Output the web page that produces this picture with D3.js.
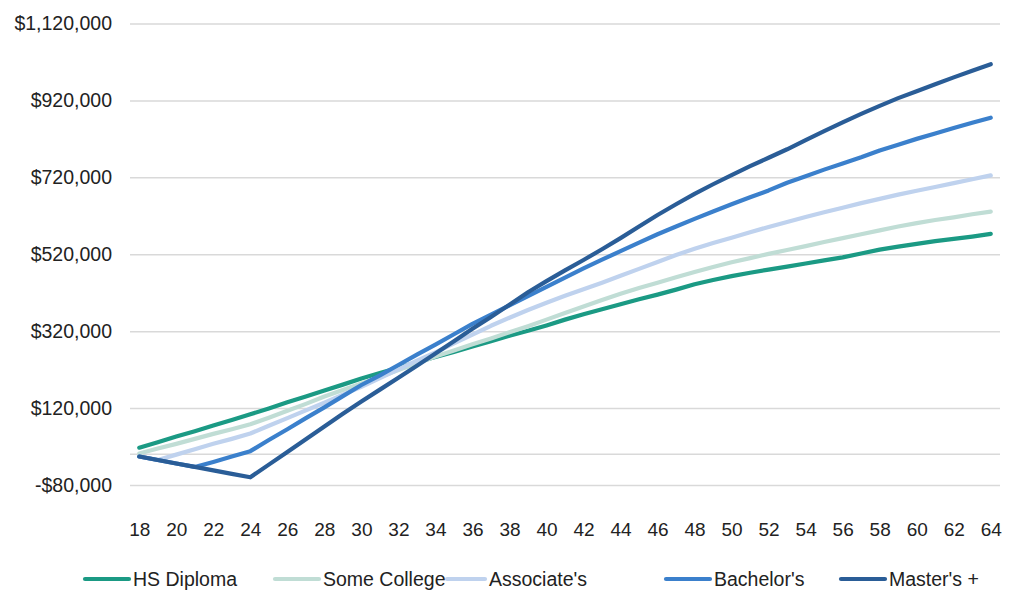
<!DOCTYPE html>
<html>
<head>
<meta charset="utf-8">
<script src="https://cdn.jsdelivr.net/npm/d3@7"></script>
<style>
  body { margin: 0; background: #fff; }
  text { font-family: "Liberation Sans", Arial, sans-serif; }
</style>
</head>
<body>
<svg id="svg"></svg>
<script>
// ages on the category axis
const ages = d3.range(18, 65);

// cumulative earnings by age, one array per education level
const hsDiploma = [17000, 31000, 46000, 60000, 75000, 89000, 104000, 119000, 135000, 150000, 166000, 181000, 197000,
    211000, 225000, 239000, 253000, 266000, 280000, 294000, 308000, 321000, 335000, 350000, 364000, 377000, 390000,
    403000, 415000, 428000, 442000, 453000, 463000, 472000, 480000, 488000, 496000, 504000, 512000, 522000, 532000,
    540000, 547000, 554000, 560000, 566000, 573000];
const someCollege = [2000, 15000, 27000, 40000, 53000, 65000, 78000, 95000, 113000, 131000, 150000, 167000, 184000,
    201000, 219000, 236000, 254000, 270000, 286000, 301000, 317000, 333000, 350000, 367000, 384000, 401000, 417000,
    432000, 446000, 460000, 474000, 487000, 499000, 510000, 521000, 531000, 541000, 552000, 562000, 572000, 582000,
    592000, 601000, 609000, 616000, 624000, 631000];
const associates = [-6000, -15000, -1000, 13000, 27000, 40000, 54000, 74000, 94000, 114000, 134000, 155000, 175000,
    198000, 221000, 243000, 265000, 288000, 311000, 334000, 355000, 375000, 394000, 412000, 429000, 446000, 464000,
    482000, 500000, 518000, 534000, 549000, 563000, 577000, 591000, 604000, 617000, 629000, 641000, 653000, 664000,
    675000, 685000, 695000, 705000, 715000, 725000];
const bachelors = [-6000, -15000, -24000, -33000, -20000, -6000, 8000, 37000, 65000, 94000, 122000, 151000, 180000,
    205000, 232000, 259000, 285000, 312000, 339000, 363000, 387000, 411000, 435000, 459000, 483000, 506000, 528000,
    550000, 572000, 592000, 612000, 631000, 650000, 668000, 686000, 706000, 723000, 740000, 756000, 772000, 790000,
    805000, 820000, 834000, 848000, 862000, 875000];
const masters = [-6000, -15000, -24000, -33000, -42000, -51000, -60000, -27000, 6000, 39000, 72000, 105000, 137000,
    168000, 199000, 230000, 262000, 294000, 326000, 357000, 389000, 421000, 450000, 478000, 505000, 533000, 562000,
    592000, 622000, 650000, 677000, 702000, 726000, 749000, 771000, 793000, 817000, 840000, 863000, 885000, 906000,
    926000, 944000, 962000, 980000, 997000, 1014000];

const seriesNames = ["HS Diploma", "Some College", "Associate's", "Bachelor's", "Master's +"];
const seriesColors = ["#1b9a84", "#c0ddd5", "#bfd2ee", "#3b80cc", "#2a5d97"];
const yTicks = [-80000, 120000, 320000, 520000, 720000, 920000, 1120000];
const xTicks = d3.range(18, 65, 2);

let svg = d3.select("#svg");
const width = 1024;
const height = 608;
svg.attr("width", width).attr("height", height);

const series = [hsDiploma, someCollege, associates, bachelors, masters];

let xScale = d3.scalePoint()
    .domain(ages)
    .range([130, 1000])
    .padding(0.5);

let yScale = d3.scaleLinear()
    .domain([-80000, 1120000])
    .range([485, 23.5]);

// gridlines + y labels
let yAxis = svg.append("g")
    .attr("transform", "translate(130,0)")
    .call(d3.axisLeft(yScale)
        .tickValues(yTicks)
        .tickSize(-870)
        .tickPadding(18)
        .tickFormat(d => (d < 0 ? "-$" : "$") + d3.format(",")(Math.abs(d))));
yAxis.select(".domain").remove();
yAxis.selectAll("line").attr("stroke", "#d9d9d9").attr("stroke-width", 1.5);
yAxis.selectAll("text")
    .style("font-size", "19.5px")
    .style("fill", "#222")
    .style("font-family", "Liberation Sans, Arial, sans-serif");

// zero line
svg.append("line")
    .attr("x1", 130)
    .attr("x2", 1000)
    .attr("y1", yScale(0))
    .attr("y2", yScale(0))
    .attr("stroke", "#d9d9d9")
    .attr("stroke-width", 1.5);

// x axis labels
let xAxis = svg.append("g")
    .attr("transform", "translate(0,522)")
    .call(d3.axisBottom(xScale).tickValues(xTicks).tickSize(0).tickPadding(0));
xAxis.select(".domain").remove();
xAxis.selectAll("text")
    .attr("dy", "0.71em")
    .style("font-size", "19px")
    .style("fill", "#222")
    .style("font-family", "Liberation Sans, Arial, sans-serif");

// lines
const line = d3.line()
    .x((d, i) => xScale(ages[i]))
    .y(d => yScale(d));

series.forEach((s, k) => {
    svg.append("path")
        .datum(s)
        .attr("d", line)
        .attr("fill", "none")
        .attr("stroke", seriesColors[k])
        .attr("stroke-width", 4.2)
        .attr("stroke-linejoin", "round")
        .attr("stroke-linecap", "round");
});

// legend
const legendX = [85, 275, 447, 666, 841];
const legendLen = [44, 44, 38, 44, 44];
const legend = svg.append("g").attr("class", "legend");
seriesNames.forEach((name, k) => {
    legend.append("line")
        .attr("x1", legendX[k])
        .attr("x2", legendX[k] + legendLen[k])
        .attr("y1", 579)
        .attr("y2", 579)
        .attr("stroke", seriesColors[k])
        .attr("stroke-width", 4.2)
        .attr("stroke-linecap", "round");
    legend.append("text")
        .attr("x", legendX[k] + legendLen[k] + 4)
        .attr("y", 579)
        .attr("dy", "0.35em")
        .style("font-size", "19.5px")
        .style("fill", "#222")
        .text(name);
});
</script>
</body>
</html>
